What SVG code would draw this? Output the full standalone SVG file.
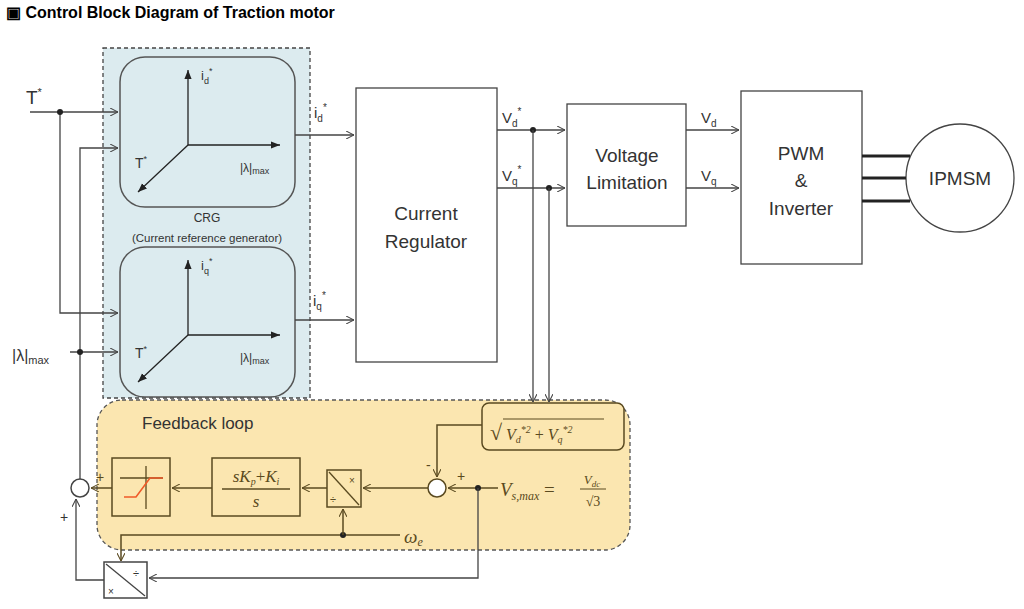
<svg xmlns="http://www.w3.org/2000/svg" width="1024" height="609" viewBox="0 0 1024 609">
<defs>
<marker id="a" viewBox="0 0 10 10" refX="10" refY="5" markerWidth="8" markerHeight="8" orient="auto" markerUnits="userSpaceOnUse"><path d="M0,0 L10,5 L0,10" fill="none" stroke="#444" stroke-width="1.3"/></marker>
<marker id="af" viewBox="0 0 10 10" refX="10" refY="5" markerWidth="8" markerHeight="8" orient="auto" markerUnits="userSpaceOnUse"><path d="M0,0 L10,5 L0,10" fill="none" stroke="#5a4a20" stroke-width="1.3"/></marker>
<marker id="s" viewBox="0 0 10 10" refX="10" refY="5" markerWidth="9" markerHeight="9" orient="auto" markerUnits="userSpaceOnUse"><path d="M0,1 L10,5 L0,9 Z" fill="#222"/></marker>
</defs>
<style>
text{font-family:"Liberation Sans",Arial,sans-serif;fill:#333}
.l{fill:none;stroke:#444;stroke-width:1.3}
.f{fill:none;stroke:#5a4a20;stroke-width:1.5}
.b{fill:#fff;stroke:#444;stroke-width:1.3}
.m{font-family:"Liberation Serif",serif;font-style:italic;fill:#5a4a20}
</style>
<rect width="1024" height="609" fill="#fff"/>
<text x="6" y="18" font-size="16" font-weight="bold" style="fill:#000">▣ Control Block Diagram of Traction motor</text>

<g id="crg">
<rect x="103" y="48" width="207" height="350" fill="#dcebef" stroke="#444" stroke-dasharray="4,3" stroke-width="1.3"/>
<text x="207" y="222" font-size="12" text-anchor="middle">CRG</text>
<text x="207" y="242" font-size="11.5" text-anchor="middle">(Current reference generator)</text>
</g>
<g id="crg-d">
<rect x="120" y="57" width="175" height="150" rx="25" fill="#dcebef" stroke="#555" stroke-width="1.5"/>
<line x1="188" y1="145" x2="188" y2="70" marker-end="url(#s)" stroke="#222" stroke-width="1.3"/><line x1="188" y1="145" x2="280" y2="145" marker-end="url(#s)" stroke="#222" stroke-width="1.3"/><line x1="188" y1="145" x2="138" y2="192" marker-end="url(#s)" stroke="#222" stroke-width="1.3"/>
<text x="201" y="80" font-size="13">i<tspan font-size="9" dy="4">d</tspan><tspan font-size="9" dy="-10">*</tspan></text>
<text x="240" y="172" font-size="12">|λ|<tspan font-size="9" dy="2">max</tspan></text>
<text x="135" y="168" font-size="14">T<tspan font-size="9" dy="-6">*</tspan></text>
</g>
<g id="crg-q">
<rect x="120" y="247" width="175" height="150" rx="25" fill="#dcebef" stroke="#555" stroke-width="1.5"/>
<line x1="188" y1="335" x2="188" y2="260" marker-end="url(#s)" stroke="#222" stroke-width="1.3"/><line x1="188" y1="335" x2="280" y2="335" marker-end="url(#s)" stroke="#222" stroke-width="1.3"/><line x1="188" y1="335" x2="138" y2="382" marker-end="url(#s)" stroke="#222" stroke-width="1.3"/>
<text x="201" y="270" font-size="13">i<tspan font-size="9" dy="4">q</tspan><tspan font-size="9" dy="-10">*</tspan></text>
<text x="240" y="362" font-size="12">|λ|<tspan font-size="9" dy="2">max</tspan></text>
<text x="135" y="358" font-size="14">T<tspan font-size="9" dy="-6">*</tspan></text>
</g>
<g id="regulator"><rect class="b" x="356" y="88" width="141" height="274"/><text x="426" y="220" font-size="19" text-anchor="middle">Current</text><text x="426" y="248" font-size="19" text-anchor="middle">Regulator</text></g>
<g id="vlim"><rect class="b" x="567" y="104" width="119" height="122"/><text x="627" y="162" font-size="19" text-anchor="middle">Voltage</text><text x="627" y="189" font-size="19" text-anchor="middle">Limitation</text></g>
<g id="pwm"><rect class="b" x="741" y="91" width="121" height="173"/><text x="801" y="160" font-size="19" text-anchor="middle">PWM</text><text x="801" y="187" font-size="19" text-anchor="middle">&amp;</text><text x="801" y="215" font-size="19" text-anchor="middle">Inverter</text></g>
<g id="ipmsm"><circle cx="960" cy="178" r="54" class="b"/><text x="960" y="185" font-size="19" text-anchor="middle">IPMSM</text></g>

<g id="feedback">
<rect x="97" y="400" width="533" height="150" rx="25" fill="#fbe6b0" stroke="#555" stroke-dasharray="4,3" stroke-width="1.3"/>
<text x="142" y="429" font-size="17">Feedback loop</text>
</g>
<g id="sqrt"><rect x="482" y="403" width="142" height="47" rx="7" fill="#fbe6b0" stroke="#5a4a20" stroke-width="1.5"/>
<text x="490" y="440" font-size="22" class="m" style="font-style:normal">√</text><line x1="503" y1="419" x2="604" y2="419" stroke="#5a4a20"/>
<text x="506" y="440" font-size="16" class="m">V<tspan font-size="10" dy="3">d</tspan><tspan font-size="10" dy="-10">*2</tspan><tspan dy="7" style="font-style:normal"> + </tspan>V<tspan font-size="10" dy="3">q</tspan><tspan font-size="10" dy="-10">*2</tspan></text></g>
<g id="sum1"><circle cx="437" cy="488" r="9" fill="#fff" stroke="#5a4a20" stroke-width="1.5"/><text x="426" y="470" font-size="14" style="fill:#5a4a20">-</text><text x="457" y="481" font-size="14" style="fill:#5a4a20">+</text></g>
<g id="vsmax"><text x="500" y="496" font-size="19" class="m">V<tspan font-size="12" dy="4">s,max</tspan><tspan dy="-4" style="font-style:normal"> = </tspan></text>
<text x="592" y="484" font-size="13" class="m" text-anchor="middle">V<tspan font-size="9" dy="3">dc</tspan></text><line x1="580" y1="489" x2="606" y2="489" stroke="#5a4a20"/><text x="593" y="506" font-size="14" class="m" text-anchor="middle" style="font-style:normal">√3</text></g>
<g id="muldiv1"><rect x="327" y="470" width="34" height="37" fill="#fbe6b0" stroke="#5a4a20" stroke-width="1.5"/><line x1="329" y1="472" x2="359" y2="505" stroke="#5a4a20" stroke-width="1.3"/><text x="349" y="484" font-size="10" style="fill:#5a4a20">×</text><text x="330" y="503" font-size="11" style="fill:#5a4a20">÷</text></g>
<g id="pi"><rect x="212" y="458" width="88" height="58" fill="#fbe6b0" stroke="#5a4a20" stroke-width="1.5"/>
<text x="256" y="482" font-size="17" class="m" text-anchor="middle">sK<tspan font-size="10" dy="3">p</tspan><tspan dy="-3" style="font-style:normal">+</tspan>K<tspan font-size="10" dy="3">i</tspan></text><line x1="222" y1="489" x2="290" y2="489" stroke="#5a4a20" stroke-width="1.5"/><text x="256" y="507" font-size="17" class="m" text-anchor="middle">s</text></g>
<g id="sat"><rect x="112" y="458" width="58" height="58" fill="#fbe6b0" stroke="#5a4a20" stroke-width="1.5"/><line x1="120" y1="478" x2="163" y2="478" stroke="#5a4a20" stroke-width="1.3"/><line x1="146" y1="466" x2="146" y2="509" stroke="#5a4a20" stroke-width="1.3"/><polyline points="124,497 136,497 150,478 163,478" fill="none" stroke="#f05a28" stroke-width="1.6"/></g>
<g id="sum2"><circle cx="80" cy="488" r="9" fill="#fff" stroke="#444" stroke-width="1.5"/><text x="96" y="482" font-size="14" style="fill:#5a4a20">+</text><text x="60" y="522" font-size="14">+</text></g>
<g id="muldiv2"><rect x="104" y="562" width="43" height="36" fill="#fff" stroke="#444" stroke-width="1.5"/><line x1="106" y1="564" x2="145" y2="596" stroke="#444" stroke-width="1.3"/><text x="133" y="577" font-size="11">÷</text><text x="108" y="595" font-size="10">×</text></g>
<g id="we"><text x="404" y="543" font-size="19" class="m">ω<tspan font-size="12" dy="3">e</tspan></text></g>

<g id="connectors">
<text x="26" y="104" font-size="19">T<tspan font-size="11" dy="-8">*</tspan></text>
<text x="12" y="361" font-size="16">|λ|<tspan font-size="11" dy="3">max</tspan></text>
<path class="l" d="M30,112 H118" marker-end="url(#a)"/>
<path class="l" d="M60,112 V313 H118" marker-end="url(#a)"/>
<circle cx="60" cy="112" r="3" fill="#222"/>
<path class="l" d="M80,479 V148 H118" marker-end="url(#a)"/>
<path class="l" d="M70,352 H118" marker-end="url(#a)"/>
<circle cx="80" cy="352" r="3" fill="#222"/>
<path class="l" d="M295,135 H354" marker-end="url(#a)"/>
<text x="314" y="118" font-size="15">i<tspan font-size="10" dy="4">d</tspan><tspan font-size="10" dy="-11">*</tspan></text>
<path class="l" d="M295,320 H354" marker-end="url(#a)"/>
<text x="313" y="306" font-size="15">i<tspan font-size="10" dy="4">q</tspan><tspan font-size="10" dy="-11">*</tspan></text>
<path class="l" d="M497,130 H565" marker-end="url(#a)"/>
<path class="l" d="M497,188 H565" marker-end="url(#a)"/>
<text x="502" y="123" font-size="15">V<tspan font-size="10" dy="4">d</tspan><tspan font-size="10" dy="-12">*</tspan></text>
<text x="502" y="181" font-size="15">V<tspan font-size="10" dy="4">q</tspan><tspan font-size="10" dy="-12">*</tspan></text>
<circle cx="533" cy="130" r="3" fill="#222"/><circle cx="549" cy="188" r="3" fill="#222"/>
<path class="l" d="M533,130 V402" marker-end="url(#a)"/>
<path class="l" d="M549,188 V402" marker-end="url(#a)"/>
<path class="l" d="M686,130 H739" marker-end="url(#a)"/>
<path class="l" d="M686,188 H739" marker-end="url(#a)"/>
<text x="701" y="123" font-size="15">V<tspan font-size="10" dy="4">d</tspan></text>
<text x="701" y="181" font-size="15">V<tspan font-size="10" dy="4">q</tspan></text>
<g stroke="#222" stroke-width="3"><line x1="862" y1="156" x2="910" y2="156"/><line x1="862" y1="178" x2="906" y2="178"/><line x1="862" y1="201" x2="910" y2="201"/></g>
<path class="f" d="M482,425 H437 V477" marker-end="url(#af)"/>
<path class="f" d="M498,488 H448" marker-end="url(#af)"/>
<circle cx="478" cy="488" r="3" fill="#222"/>
<path class="l" d="M478,488 V578 H149" marker-end="url(#a)"/>
<path class="f" d="M428,488 H363" marker-end="url(#af)"/>
<path class="f" d="M327,488 H302" marker-end="url(#af)"/>
<path class="f" d="M212,488 H172" marker-end="url(#af)"/>
<path class="f" d="M112,488 H91" marker-end="url(#af)"/>
<path class="f" d="M400,535 H121 V561" marker-end="url(#af)"/>
<circle cx="343" cy="535" r="3" fill="#222"/>
<path class="f" d="M343,535 V509" marker-end="url(#af)"/>
<path class="l" d="M104,580 H76 V499" marker-end="url(#a)"/>
</g>
</svg>
